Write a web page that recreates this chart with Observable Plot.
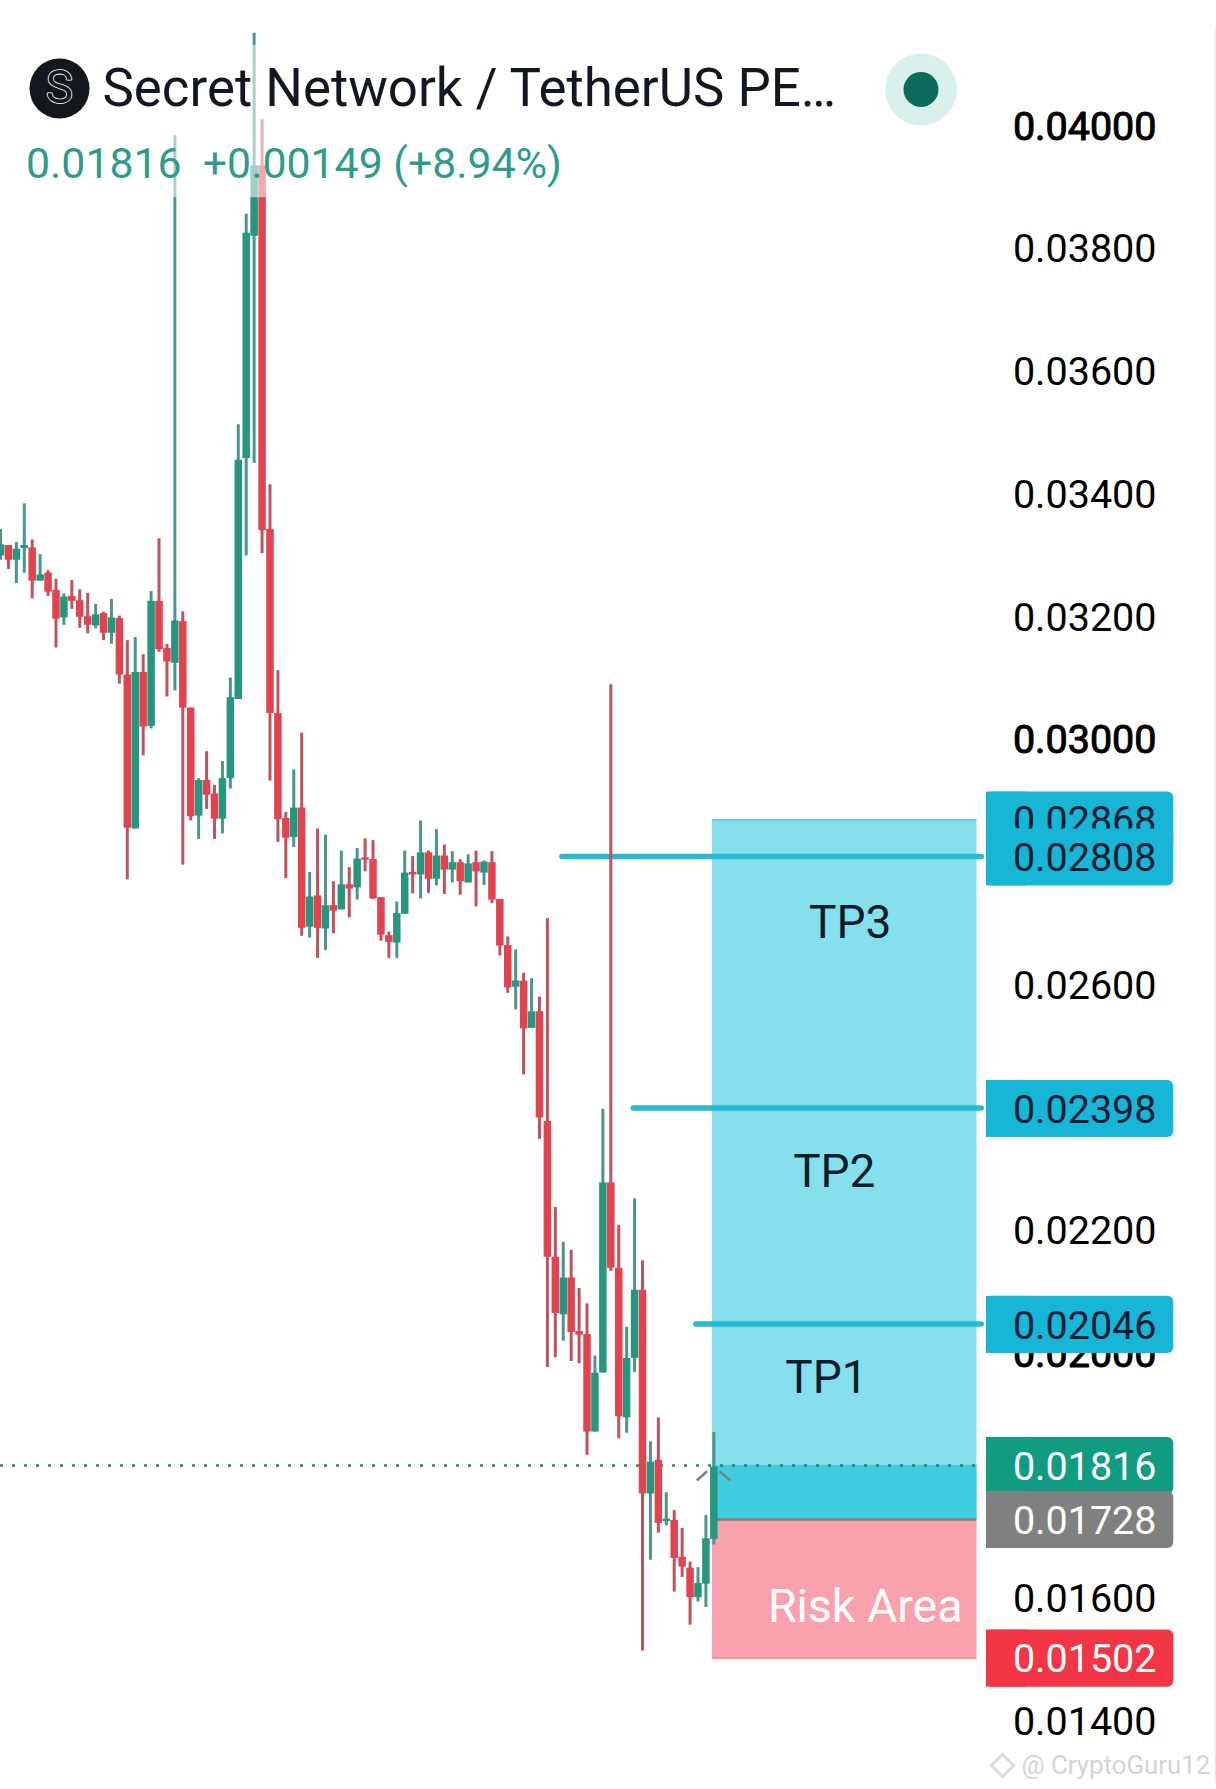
<!DOCTYPE html>
<html>
<head>
<meta charset="utf-8">
<script src="https://cdn.jsdelivr.net/npm/d3@7"></script>
<script src="https://cdn.jsdelivr.net/npm/@observablehq/plot@0.6"></script>
<style>
html,body{margin:0;padding:0;background:#fff}
svg{display:block;overflow:visible}
</style>
</head>
<body>
<div id="chart"></div>
<script>
// Prices in units of 0.00001 USDT
const opens  = [3301,3318,3294,3313,3314,3260,3273,3245,3200,3235,3228,3202,3187,3207,3175,3199,3107,2856,3111,3023,3227,3150,3126,3194,3053,2877,2935,2913,2872,2938,3067,3460,3822,3937,3344,3044,2873,2842,2890,2696,2747,2693,2731,2724,2765,2760,2809,2806,2744,2682,2670,2717,2785,2781,2817,2774,2812,2789,2801,2768,2801,2784,2801,2741,2666,2598,2608,2531,2558,2379,2158,2064,2124,2037,2032,1873,1969,2279,2140,1896,1993,2104,1772,1827,1727,1729,1669,1651,1603,1625,1698];
const closes = [3319,3294,3312,3318,3260,3270,3242,3198,3234,3227,3201,3188,3205,3175,3200,3107,2857,3111,3022,3227,3148,3128,3195,3053,2876,2935,2911,2872,2938,3070,3457,3827,3937,3342,3044,2871,2841,2890,2694,2745,2694,2731,2722,2765,2758,2807,2805,2742,2683,2671,2718,2784,2781,2817,2774,2812,2789,2801,2770,2799,2786,2802,2740,2665,2597,2608,2530,2558,2385,2158,2066,2124,2035,2031,1873,1969,2279,2140,1898,1993,2104,1772,1824,1724,1731,1667,1653,1603,1626,1699,1816];
const highs  = [3344,3318,3323,3386,3327,3303,3277,3263,3239,3261,3246,3240,3222,3209,3230,3203,3163,3168,3140,3243,3329,3157,3986,3210,3053,2938,2982,2927,2966,3102,3515,3858,4153,4012,3417,3114,2883,2952,3012,2785,2856,2846,2770,2820,2793,2824,2840,2837,2744,2688,2737,2820,2811,2869,2820,2855,2830,2819,2806,2814,2820,2804,2819,2741,2680,2659,2621,2612,2582,2710,2239,2182,2169,2107,2082,1997,2399,3091,2210,2044,2253,2152,1857,1896,1774,1745,1716,1661,1652,1737,1872];
const lows   = [3294,3279,3256,3273,3231,3260,3235,3151,3188,3214,3183,3174,3182,3163,3157,3092,2773,2856,2975,3019,3144,3071,3081,2797,2869,2839,2888,2839,2848,2921,3067,3301,3452,3305,2934,2834,2775,2826,2681,2678,2645,2658,2685,2724,2711,2740,2786,2741,2673,2645,2645,2717,2750,2742,2751,2763,2749,2768,2748,2768,2729,2764,2734,2649,2588,2561,2455,2531,2350,1978,1994,2021,1988,1984,1835,1873,1969,2135,1862,1871,1970,1516,1664,1708,1720,1612,1636,1558,1596,1587,1689];

const candles = opens.map((o,i)=>({i,open:o/1e5,close:closes[i]/1e5,high:highs[i]/1e5,low:lows[i]/1e5,up:closes[i]>=o}));

const axisTicks = [0.040,0.038,0.036,0.034,0.032,0.030,0.028,0.026,0.024,0.022,0.020,0.018,0.016,0.014];
const boldTicks = [0.040,0.030,0.020];

const priceTags = [
  {v:0.02868,fill:"#17b5d6",ink:"#0c1c33"},
  {v:0.02808,fill:"#17b5d6",ink:"#0c1c33"},
  {v:0.02398,fill:"#17b5d6",ink:"#0c1c33"},
  {v:0.02046,fill:"#17b5d6",ink:"#0c1c33"},
  {v:0.01816,fill:"#109b83",ink:"#ffffff"},
  {v:0.01728,fill:"#808080",ink:"#ffffff"},
  {v:0.01502,fill:"#f23645",ink:"#ffffff"}
];
const targets = [{name:"TP3",v:0.02808,from:70.9,lx:107.2,ly:0.02702},{name:"TP2",v:0.02398,from:79.9,lx:105.2,ly:0.02296},{name:"TP1",v:0.02046,from:87.8,lx:104.2,ly:0.01961}];
const entry=0.01728, stop=0.01502, zoneTop=0.02868, lastPrice=0.01816;

const GREEN="#27967f", RED="#e1434f", GW="#4a968b", RW="#bc5560";
const F="Roboto, sans-serif";
const tagHalf=0.000465, zoneL=89.83, zoneR=123.2, tagL=124.4, tagR=148.03;

const marks=[
  // position zones
  Plot.rect([0],{x1:zoneL,x2:zoneR,y1:entry,y2:zoneTop,fill:"#85dfec",dy:-1.5}),
  Plot.rect([0],{x1:zoneL,x2:zoneR,y1:entry,y2:lastPrice,fill:"#40cde0",dy:-1.5}),
  Plot.rect([0],{x1:zoneL,x2:zoneR,y1:stop,y2:entry,fill:"#f9a1ac",dy:-1.5}),
  Plot.ruleY([zoneTop],{x1:zoneL,x2:zoneR,stroke:"#5fd0e2",strokeWidth:2,dy:-1.5}),
  Plot.ruleY([entry],{x1:zoneL,x2:zoneR,stroke:"#808080",strokeWidth:2.5,dy:-1.5}),
  Plot.ruleY([stop],{x1:zoneL,x2:zoneR,stroke:"#e8808c",strokeWidth:1.5,dy:-1.5}),
  // target lines
  Plot.ruleY(targets,{y:"v",x1:"from",x2:tagL-0.6,stroke:"#27b8d5",strokeWidth:5.5,strokeLinecap:"round",dy:-2}),
  // last price line
  Plot.ruleY([lastPrice],{x1:0,x2:zoneR,stroke:"#1f8a78",strokeWidth:2.5,strokeDasharray:"3 9",dy:-1.5}),
  // candles
  Plot.ruleX(candles,{x:"i",y1:"low",y2:"high",stroke:d=>d.up?GW:RW,strokeWidth:3}),
  Plot.ruleX(candles,{x:"i",y1:"open",y2:"close",stroke:d=>d.up?GREEN:RED,strokeWidth:7.5}),
  // chevron at last candle
  Plot.link([{a:87.85,b:0.01794,c:89.15,d:0.01809},{a:90.7,b:0.01809,c:92.1,d:0.01794}],{x1:"a",y1:"b",x2:"c",y2:"d",stroke:"#808080",strokeWidth:2.5}),
  // trade labels
  Plot.text(targets,{x:"lx",y:"ly",text:"name",fontFamily:F,fontSize:46,fill:"#0c1c28"}),
  Plot.text(["Risk Area"],{x:109.1,y:0.01588,fontFamily:F,fontSize:46.5,fill:"#ffffff"}),
  // axis labels
  Plot.text(axisTicks,{y:d=>d,text:d=>d3.format(".5f")(d),frameAnchor:"right",textAnchor:"end",fontFamily:F,fontSize:39.5,fill:"#000",
    fontWeight:d=>boldTicks.includes(d)?500:400,stroke:d=>boldTicks.includes(d)?"#000":"none",strokeWidth:1}),
  // header veil
  Plot.rect([0],{x1:0,x2:128,y1:0.03885,y2:0.04133,fill:"#fff",fillOpacity:0.55}),
  // header
  Plot.dot([0],{frameAnchor:"top-left",dx:59,dy:88,r:30,fill:"#14181d"}),
  Plot.text(["S"],{frameAnchor:"top-left",dx:59,dy:88,textAnchor:"middle",lineAnchor:"middle",fontFamily:F,fontSize:46,fill:"#14181d",stroke:"#fff",strokeWidth:1.6}),
  Plot.text(["Secret Network / TetherUS PE…"],{frameAnchor:"top-left",dx:102,dy:89,textAnchor:"start",lineAnchor:"middle",fontFamily:F,fontSize:52.8,fill:"#131722"}),
  Plot.text(["0.01816  +0.00149 (+8.94%)"],{frameAnchor:"top-left",dx:25.5,dy:164,textAnchor:"start",lineAnchor:"middle",fontFamily:F,fontSize:42.8,fill:"#2f9b8c"}),
  Plot.dot([0],{frameAnchor:"top-left",dx:920.5,dy:89,r:36,fill:"#daf0ec"}),
  Plot.dot([0],{frameAnchor:"top-left",dx:920.5,dy:89,r:17.5,fill:"#0d6b5c"}),
  // right edge
  Plot.ruleX([153.3],{y1:0.01300,y2:0.0416,stroke:"#ececec",strokeWidth:2}),
  // watermark
  Plot.dot([0],{frameAnchor:"top-left",dx:1002,dy:1765,r:10,symbol:"diamond2",stroke:"#dcdcdc",strokeWidth:3,fill:"none"}),
  Plot.text(["@ CryptoGuru12"],{frameAnchor:"top-left",dx:1021,dy:1765,textAnchor:"start",lineAnchor:"middle",fontFamily:F,fontSize:25.8,fill:"#d4d4d4"})
];
// price tags, later tags overlap earlier ones
for(const t of priceTags){
  marks.push(
    Plot.rect([t],{x1:tagL,x2:tagR,y1:d=>d.v-tagHalf,y2:d=>d.v+tagHalf,fill:t.fill,rx:6,dy:-1}),
    Plot.rect([t],{x1:tagL,x2:tagL+5,y1:d=>d.v-tagHalf,y2:d=>d.v+tagHalf,fill:t.fill,dy:-1}),
    Plot.text([t],{y:"v",text:d=>d3.format(".5f")(d.v),frameAnchor:"right",textAnchor:"end",fontFamily:F,fontSize:39.5,fill:t.ink})
  );
}
const chart=Plot.plot({
  width:1216,height:1789,
  marginLeft:0,marginRight:60,marginTop:0,marginBottom:0,
  style:{background:"#fff",fontFamily:F},
  x:{axis:null,domain:[0,145.85],range:[0,1156]},
  y:{axis:null,domain:[0.012903,0.042064],range:[1789,0]},
  marks
});
document.getElementById("chart").append(chart);
</script>
</body>
</html>
